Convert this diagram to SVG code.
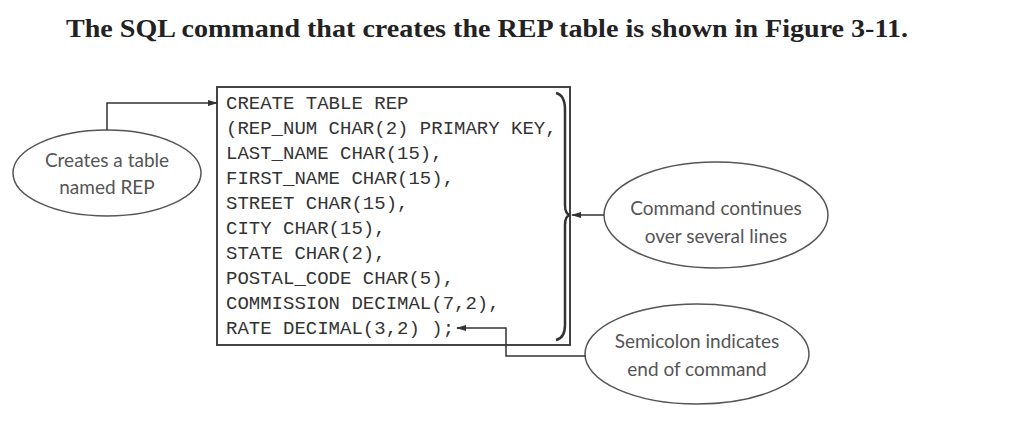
<svg xmlns="http://www.w3.org/2000/svg" width="1024" height="428" viewBox="0 0 1024 428">
<style>
.code{font-family:"Liberation Mono",monospace;font-size:19px;fill:#333}
.lbl{font-family:"Lato","Open Sans",sans-serif;font-size:19px;fill:#555;text-anchor:middle}
.ell{fill:#fff;stroke:#555;stroke-width:1.5}
.con{fill:none;stroke:#333;stroke-width:1.5}
</style>
<defs><marker id="ah" markerWidth="10" markerHeight="8" refX="9" refY="4" orient="auto" markerUnits="userSpaceOnUse"><path d="M0,1 L10,4 L0,7 Z" fill="#333"/></marker></defs>
<rect width="1024" height="428" fill="#fff"/>
<text x="487" y="37" text-anchor="middle" font-family="Liberation Serif,serif" font-weight="bold" font-size="25" fill="#222" textLength="842" lengthAdjust="spacingAndGlyphs">The SQL command that creates the REP table is shown in Figure 3-11.</text>
<g id="code">
<rect x="217" y="87" width="353" height="258" fill="none" stroke="#444" stroke-width="2"/>
<path d="M556,93 Q565,95 565,110 L565,205 Q565,214 570,215 Q565,216 565,225 L565,325 Q565,338 556,340" fill="none" stroke="#333" stroke-width="2.5"/>
<g class="code">
<text x="226" y="109">CREATE TABLE REP</text>
<text x="226" y="134">(REP_NUM CHAR(2) PRIMARY KEY,</text>
<text x="226" y="159">LAST_NAME CHAR(15),</text>
<text x="226" y="184">FIRST_NAME CHAR(15),</text>
<text x="226" y="209">STREET CHAR(15),</text>
<text x="226" y="234">CITY CHAR(15),</text>
<text x="226" y="259">STATE CHAR(2),</text>
<text x="226" y="284">POSTAL_CODE CHAR(5),</text>
<text x="226" y="309">COMMISSION DECIMAL(7,2),</text>
<text x="226" y="334">RATE DECIMAL(3,2) );</text>
</g></g>
<g id="n1"><ellipse class="ell" cx="107" cy="173" rx="94" ry="43"/><text class="lbl" x="107" y="167">Creates a table</text><text class="lbl" x="107" y="194">named REP</text></g>
<g id="n2"><ellipse class="ell" cx="716" cy="215" rx="112" ry="53"/><text class="lbl" x="716" y="215">Command continues</text><text class="lbl" x="716" y="243">over several lines</text></g>
<g id="n3"><ellipse class="ell" cx="697" cy="354" rx="112" ry="50"/><text class="lbl" x="697" y="348">Semicolon indicates</text><text class="lbl" x="697" y="376">end of command</text></g>
<g id="connectors">
<path class="con" d="M107,130 L107,103 L217,103" marker-end="url(#ah)"/>
<path class="con" d="M604,215 L572,215" marker-end="url(#ah)"/>
<path class="con" d="M586,356 L506,356 L506,328 L457,328" marker-end="url(#ah)"/>
</g>
</svg>
